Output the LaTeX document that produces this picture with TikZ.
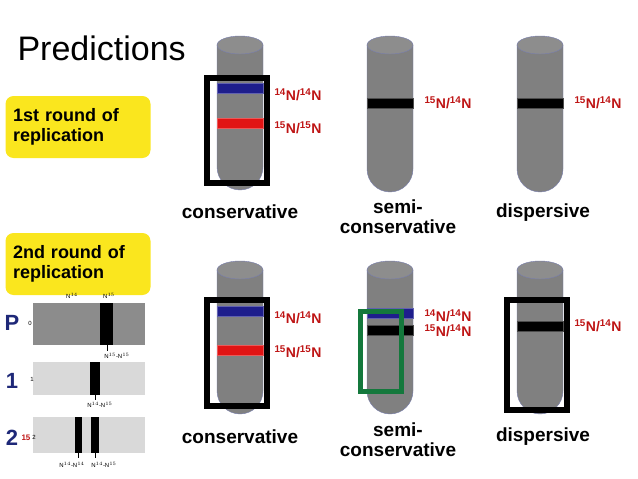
\documentclass[tikz,border=0pt]{standalone}
\usepackage{fontspec}
\setmainfont{Liberation Sans}
\usetikzlibrary{positioning}
\definecolor{tubegray}{RGB}{128,128,128}
\definecolor{labred}{RGB}{190,20,20}
\definecolor{boxyellow}{RGB}{250,230,30}
\definecolor{pnavy}{RGB}{30,40,120}
\definecolor{bandblue}{RGB}{30,30,140}
\definecolor{bandred}{RGB}{225,20,20}
\definecolor{frgreen}{RGB}{20,120,60}
\newcommand{\tube}[3]{% x, top y, bottom y
  \fill[tubegray, draw=pnavy!60, thin] (#1-23,#2) -- (#1-23,#3-23) arc[start angle=180,end angle=0,radius=23] -- (#1+23,#2) -- cycle;
  \fill[tubegray!90, draw=pnavy!60, thin] (#1,#2) ellipse[x radius=23,y radius=9];}
\newcommand{\band}[3]{% x, y, colour
  \fill[#3, draw=#3!70!white] (#1-23,#2-5) rectangle (#1+23,#2+5);}
\newcommand{\iso}[2]{\textsuperscript{#1}N/\textsuperscript{#2}N}
\tikzset{
  lab/.style = {font=\bfseries\fontsize{14}{14}\selectfont, text=labred},
  kind/.style = {font=\bfseries\fontsize{19}{20}\selectfont, align=center},
  round/.style = {fill=boxyellow, rounded corners=8pt, minimum width=145pt, minimum height=62pt,
                  font=\bfseries\fontsize{18}{20}\selectfont, align=left, text width=130pt},
  frame/.style = {draw=black, line width=6pt},
  gel/.style = {fill=black!15},
  gtxt/.style = {font=\fontsize{6}{6}\selectfont},
  row/.style = {font=\bfseries\fontsize{22}{22}\selectfont, text=pnavy}
}
\begin{document}
\begin{tikzpicture}[x=1pt,y=-1pt]
\useasboundingbox (0,0) rectangle (638,479);
\node[font=\fontsize{34}{34}\selectfont, anchor=west] (title) at (14,48) {Predictions};
\node[round] (r1) at (78,127) {1st round of\\replication};
\node[round] (r2) at (78,264) {2nd round of\\replication};
% top row tubes
\tube{240}{45}{190}
\tube{390}{45}{192}
\tube{540}{45}{192}
\band{240}{88}{bandblue}
\band{240}{123}{bandred}
\band{390}{103}{black}
\band{540}{103}{black}
\draw[frame] (207,78) rectangle (267,183);
\node[lab] (t1a) at (298,95) {\iso{14}{14}};
\node[lab] (t1b) at (298,128) {\iso{15}{15}};
\node[lab] (t2a) at (448,103) {\iso{15}{14}};
\node[lab] (t3a) at (598,103) {\iso{15}{14}};
\node[kind] (k1) at (240,212) {conservative};
\node[kind] (k2) at (398,217) {semi-\\conservative};
\node[kind] (k3) at (543,213) {dispersive};
% bottom row tubes
\tube{240}{270}{414}
\tube{390}{270}{414}
\tube{540}{270}{414}
\band{240}{311}{bandblue}
\band{240}{350}{bandred}
\band{390}{313}{bandblue}
\band{390}{330}{black}
\band{540}{326}{black}
\draw[frame] (207,300) rectangle (267,406);
\draw[frame] (507,300) rectangle (567,410);
\draw[draw=frgreen, line width=5pt] (360,311) rectangle (401,391);
\node[lab] (b1a) at (298,318) {\iso{14}{14}};
\node[lab] (b1b) at (298,352) {\iso{15}{15}};
\node[lab] (b2a) at (448,316) {\iso{14}{14}};
\node[lab] (b2b) at (448,331) {\iso{15}{14}};
\node[lab] (b3a) at (598,326) {\iso{15}{14}};
\node[kind] (k4) at (240,437) {conservative};
\node[kind] (k5) at (398,440) {semi-\\conservative};
\node[kind] (k6) at (543,437) {dispersive};
% gel panels
\fill[black!45] (33,303) rectangle (145,345);
\fill[black] (100,303) rectangle (113,345);
\fill[gel] (33,362) rectangle (145,395);
\fill[black] (90,362) rectangle (100,395);
\fill[gel] (33,417) rectangle (145,453);
\fill[black] (75,417) rectangle (82,453);
\fill[black] (91,417) rectangle (99,453);
\draw (107,345) -- (107,351) (95,395) -- (95,400) (78,453) -- (78,458) (95,453) -- (95,458);
\node[gtxt] (n14) at (72,296) {N$^{14}$};
\node[gtxt] (n15) at (109,296) {N$^{15}$};
\node[gtxt] (g1) at (117,356) {N$^{15}$-N$^{15}$};
\node[gtxt] (g2) at (100,405) {N$^{14}$-N$^{15}$};
\node[gtxt] (g3) at (72,465) {N$^{14}$-N$^{14}$};
\node[gtxt] (g4) at (104,465) {N$^{14}$-N$^{15}$};
\node[gtxt] (l0) at (30,323) {0};
\node[gtxt] (l1) at (32,379) {1};
\node[gtxt] (l2) at (34,437) {2};
\node[row] (pP) at (12,323) {P};
\node[row] (p1) at (12,381) {1};
\node[row] (p2) at (12,438) {2};
\node[font=\bfseries\fontsize{8}{8}\selectfont, text=labred] (p15) at (26,438) {15};
\end{tikzpicture}
\end{document}
